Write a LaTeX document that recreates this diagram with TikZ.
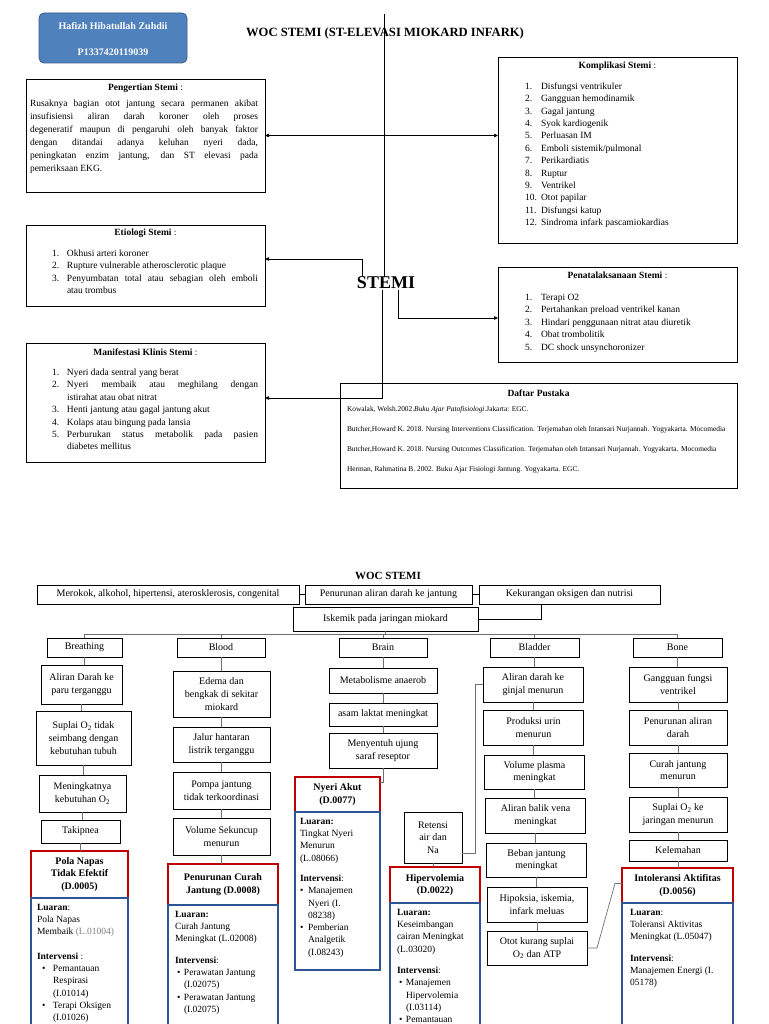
\documentclass[tikz,border=0pt]{standalone}
\usepackage{fontspec}
\setmainfont{Liberation Serif}
\usetikzlibrary{arrows.meta}
\definecolor{namefill}{HTML}{4F81BD}
\definecolor{nameedge}{HTML}{385D8A}
\definecolor{dxred}{HTML}{C00000}
\definecolor{dxblue}{HTML}{2F5496}
\definecolor{lkgray}{HTML}{6F6F6F}
\newlength\lind
\newcommand\myfs[2]{\fontsize{#1}{#2}\selectfont}
\newcommand\li[2]{\par\noindent\hangindent=\lind\hangafter=1\makebox[\lind][l]{#1}#2}
\newcommand\bul[3]{\hspace*{#1}\makebox[#2][l]{\textbullet}#3}
\begin{document}
\begin{tikzpicture}[x=1pt,y=-1pt,
  every node/.style={inner sep=0pt, outer sep=0pt},
  panel/.style={draw, line width=0.8pt},
  ttl/.style={font=\myfs{9.5}{12}},
  lst/.style={anchor=north west, align=justify, font=\myfs{9.5}{12.4}},
  tip/.style={-{Triangle[length=4pt,width=3.5pt]}},
  tips/.style={{Triangle[length=4pt,width=3.5pt]}-{Triangle[length=4pt,width=3.5pt]}},
  ln/.style={line width=0.6pt},
  bx/.style={draw, line width=0.7pt, align=center, font=\myfs{10}{12.6}},
  rbx/.style={draw=dxred, line width=1.4pt, align=center, font=\bfseries\myfs{10}{12.6}},
  bbx/.style={draw=dxblue, line width=1.4pt},
  btx/.style={anchor=north west, align=left, font=\myfs{9.5}{12.3}},
  lk/.style={line width=0.7pt, draw=lkgray},
]
\useasboundingbox (0,0) rectangle (768,1024);
\fill[white] (0,0) rectangle (768,1024);

% ---------- header ----------
\node[draw=nameedge, fill=namefill, rounded corners=5pt, line width=0.8pt, minimum width=148pt, minimum height=50pt] (namebox) at (113,38) {};
\node[font=\bfseries\myfs{10}{12}, text=white] (nm1) at (113,26) {Hafizh Hibatullah Zuhdii};
\node[font=\bfseries\myfs{10}{12}, text=white] (nm2) at (113,52) {P1337420119039};
\node[font=\bfseries\myfs{12.6}{14}] (title) at (385,33) {WOC STEMI (ST-ELEVASI MIOKARD INFARK)};
\node[font=\bfseries\myfs{18}{20}] (stemi) at (386,283) {STEMI};

% ---------- Pengertian ----------
\node[panel, minimum width=239pt, minimum height=113pt] (peng) at (145.5,135.5) {};
\node[ttl] (pengT) at (145.5,88) {\textbf{Pengertian Stemi} :};
\node[lst, text width=228pt, font=\myfs{9.5}{13}] (pengP) at (30,99.5) {Rusaknya bagian otot jantung secara permanen akibat\linebreak insufisiensi aliran darah koroner oleh proses\linebreak degeneratif maupun di pengaruhi oleh banyak faktor\linebreak dengan ditandai adanya keluhan nyeri dada,\linebreak peningkatan enzim jantung, dan ST elevasi pada\linebreak pemeriksaan EKG.};

% ---------- Komplikasi ----------
\node[panel, minimum width=239pt, minimum height=186pt] (komp) at (617.5,150) {};
\node[ttl] (kompT) at (617.5,66) {\textbf{Komplikasi Stemi} :};
\node[lst, text width=205pt] (kompL) at (525,77) {\setlength\lind{16pt}%
\li{1.}{Disfungsi ventrikuler}\li{2.}{Gangguan hemodinamik}\li{3.}{Gagal jantung}\li{4.}{Syok kardiogenik}\li{5.}{Perluasan IM}\li{6.}{Emboli sistemik/pulmonal}\li{7.}{Perikardiatis}\li{8.}{Ruptur}\li{9.}{Ventrikel}\li{10.}{Otot papilar}\li{11.}{Disfungsi katup}\li{12.}{Sindroma infark pascamiokardias}\par};

% ---------- Etiologi ----------
\node[panel, minimum width=239pt, minimum height=81pt] (etio) at (145.5,265.5) {};
\node[ttl] (etioT) at (145.5,233) {\textbf{Etiologi Stemi} :};
\node[lst, text width=206pt] (etioL) at (52,244) {\setlength\lind{15pt}%
\li{1.}{Okhusi arteri koroner}\li{2.}{Rupture vulnerable atherosclerotic plaque}\li{3.}{Penyumbatan total atau sebagian oleh emboli\linebreak atau trombus}\par};

% ---------- Penatalaksanaan ----------
\node[panel, minimum width=239pt, minimum height=95pt] (pena) at (617.5,314.5) {};
\node[ttl] (penaT) at (617.5,275) {\textbf{Penatalaksanaan Stemi} :};
\node[lst, text width=205pt] (penaL) at (525,288) {\setlength\lind{16pt}%
\li{1.}{Terapi O2}\li{2.}{Pertahankan preload ventrikel kanan}\li{3.}{Hindari penggunaan nitrat atau diuretik}\li{4.}{Obat trombolitik}\li{5.}{DC shock unsynchoronizer}\par};

% ---------- Manifestasi ----------
\node[panel, minimum width=239pt, minimum height=119pt] (mani) at (145.5,402.5) {};
\node[ttl] (maniT) at (145.5,352) {\textbf{Manifestasi Klinis Stemi} :};
\node[lst, text width=206pt] (maniL) at (52,363) {\setlength\lind{15pt}%
\li{1.}{Nyeri dada sentral yang berat}\li{2.}{Nyeri membaik atau meghilang dengan\linebreak istirahat atau obat nitrat}\li{3.}{Henti jantung atau gagal jantung akut}\li{4.}{Kolaps atau bingung pada lansia}\li{5.}{Perburukan status metabolik pada pasien\linebreak diabetes mellitus}\par};

% ---------- Daftar Pustaka ----------
\node[panel, minimum width=397pt, minimum height=105pt] (dp) at (538.5,435.5) {};
\node[font=\bfseries\myfs{9.5}{12}] (dpT) at (538.5,393) {Daftar Pustaka};
\node[anchor=west, font=\myfs{7.4}{9}] (dp1) at (347,410) {Kowalak, Welsh.2002.\textit{Buku Ajar Patofisiologi}.Jakarta: EGC.};
\node[anchor=west, font=\myfs{7.4}{9}] (dp2) at (347,430) {Butcher,Howard K. 2018. Nursing Interventions Classification. Terjemahan oleh Intansari Nurjannah. Yogyakarta. Mocomedia};
\node[anchor=west, font=\myfs{7.4}{9}] (dp3) at (347,450) {Butcher,Howard K. 2018. Nursing Outcomes Classification. Terjemahan oleh Intansari Nurjannah. Yogyakarta. Mocomedia};
\node[anchor=west, font=\myfs{7.4}{9}] (dp4) at (347,470) {Herman, Rahmatina B. 2002. Buku Ajar Fisiologi Jantung. Yogyakarta. EGC.};

% ---------- top connectors ----------
\coordinate (up1) at (384,14);
\draw[ln] (up1) -- (stemi.north -| up1);
\draw[tips, ln] (peng.east) -- (peng.east -| komp.west);
\coordinate (e1) at (362,276);
\draw[tip, ln] (e1) |- ([yshift=6.5pt]etio.east);
\coordinate (m1) at (382,290);
\draw[tip, ln] (m1) |- ([yshift=4.5pt]mani.east);
\coordinate (p1) at (398,290);
\draw[tip, ln] (p1) |- ([yshift=-3.5pt]pena.west);

% ================= WOC STEMI (bottom) =================
\node[font=\bfseries\myfs{11}{13}] (woc2) at (388,576) {WOC STEMI};
\node[bx, minimum width=262pt, minimum height=19pt] (rok) at (168,594.5) {Merokok, alkohol, hipertensi, aterosklerosis, congenital};
\node[bx, minimum width=167pt, minimum height=19pt] (pen) at (388.5,594.5) {Penurunan aliran darah ke jantung};
\node[bx, minimum width=181pt, minimum height=19pt] (kek) at (569.5,594.5) {Kekurangan oksigen dan nutrisi};
\node[bx, minimum width=185pt, minimum height=24pt] (isk) at (385.5,619) {Iskemik pada jaringan miokard};
\draw[ln] (rok) -- (pen);
\draw[ln] (pen) -- (kek);
\draw[ln] ([xshift=-28.5pt]kek.south) |- (isk.east);

% row of B's
\node[bx, minimum width=75pt, minimum height=19pt] (brea) at (84.5,647.5) {Breathing};
\node[bx, minimum width=88pt, minimum height=19pt] (bloo) at (221,647.5) {Blood};
\node[bx, minimum width=88pt, minimum height=19pt] (brai) at (383,647.5) {Brain};
\node[bx, minimum width=89pt, minimum height=19pt] (blad) at (534.5,647.5) {Bladder};
\node[bx, minimum width=89pt, minimum height=19pt] (bone) at (677.5,647.5) {Bone};
\coordinate (busL) at (84.5,634);
\coordinate (busR) at (677.5,634);
\draw[lk] (busL) -- (busR);
\draw[lk] (isk.south) -- (isk.south |- busL);
\foreach \n in {brea,bloo,brai,blad,bone} \draw[lk] (\n.north |- busL) -- (\n.north);

% Breathing column
\node[bx, minimum width=81pt, minimum height=39pt] (b1) at (81.5,684.5) {Aliran Darah ke\\paru terganggu};
\node[bx, minimum width=95pt, minimum height=54pt] (b2) at (83.5,738) {Suplai O\textsubscript{2} tidak\\seimbang dengan\\kebutuhan tubuh};
\node[bx, minimum width=87pt, minimum height=37pt] (b3) at (82.5,793.5) {Meningkatnya\\kebutuhan O\textsubscript{2}};
\node[bx, minimum width=79pt, minimum height=23pt] (b4) at (80.5,831.5) {Takipnea};
\node[rbx, minimum width=97pt, minimum height=47pt] (b5) at (79.5,874.5) {Pola Napas\\Tidak Efektif\\(D.0005)};
\node[bbx, minimum width=97pt, minimum height=132pt] (b6) at (79.5,964) {};
\node[btx] (b6t) at (37,904) {\textbf{Luaran}:\\Pola Napas\\Membaik {\color{gray}(L.01004)}\\[12pt]\textbf{Intervensi} :\\\bul{5pt}{11pt}{Pemantauan}\\\hspace*{16pt}Respirasi\\\hspace*{16pt}(I.01014)\\\bul{5pt}{11pt}{Terapi Oksigen}\\\hspace*{16pt}(I.01026)};

% Blood column
\node[bx, minimum width=97pt, minimum height=46pt] (d1) at (221.5,694) {Edema dan\\bengkak di sekitar\\miokard};
\node[bx, minimum width=97pt, minimum height=35pt] (d2) at (221.5,744.5) {Jalur hantaran\\listrik terganggu};
\node[bx, minimum width=97pt, minimum height=37pt] (d3) at (221.5,790.5) {Pompa jantung\\tidak terkoordinasi};
\node[bx, minimum width=97pt, minimum height=37pt] (d4) at (221.5,836.5) {Volume Sekuncup\\menurun};
\node[rbx, minimum width=110pt, minimum height=41pt] (d5) at (223,884.5) {Penurunan Curah\\Jantung (D.0008)};
\node[bbx, minimum width=110pt, minimum height=125pt] (d6) at (223,967.5) {};
\node[btx] (d6t) at (175,911) {\textbf{Luaran:}\\Curah Jantung\\Meningkat (L.02008)\\[9pt]\textbf{Intervensi}:\\\bul{2pt}{7pt}{Perawatan Jantung}\\\hspace*{9pt}(I.02075)\\\bul{2pt}{7pt}{Perawatan Jantung}\\\hspace*{9pt}(I.02075)};

% Brain column
\node[bx, minimum width=108pt, minimum height=25pt] (n1) at (383,680.5) {Metabolisme anaerob};
\node[bx, minimum width=108pt, minimum height=23pt] (n2) at (383,714.5) {asam laktat meningkat};
\node[bx, minimum width=108pt, minimum height=35pt] (n3) at (383,750.5) {Menyentuh ujung\\saraf reseptor};
\node[rbx, minimum width=85pt, minimum height=35pt] (n4) at (337.5,794.5) {Nyeri Akut\\(D.0077)};
\node[bbx, minimum width=85pt, minimum height=158pt] (n5) at (337.5,891) {};
\node[btx] (n5t) at (300,818) {\textbf{Luaran:}\\Tingkat Nyeri\\Menurun\\(L.08066)\\[8pt]\textbf{Intervensi}:\\\bul{0pt}{8pt}{Manajemen}\\\hspace*{8pt}Nyeri (I.\\\hspace*{8pt}08238)\\\bul{0pt}{8pt}{Pemberian}\\\hspace*{8pt}Analgetik\\\hspace*{8pt}(I.08243)};

% Bladder column
\node[bx, minimum width=100pt, minimum height=35pt] (c1) at (533,684.5) {Aliran darah ke\\ginjal menurun};
\node[bx, minimum width=100pt, minimum height=35pt] (c2) at (533.5,727.5) {Produksi urin\\menurun};
\node[bx, minimum width=100pt, minimum height=34pt] (c3) at (534.5,772) {Volume plasma\\meningkat};
\node[bx, minimum width=100pt, minimum height=35pt] (c4) at (535.5,815.5) {Aliran balik vena\\meningkat};
\node[bx, minimum width=100pt, minimum height=34pt] (c5) at (536.5,860) {Beban jantung\\meningkat};
\node[bx, minimum width=100pt, minimum height=35pt] (c6) at (537,904.5) {Hipoksia, iskemia,\\infark meluas};
\node[bx, minimum width=100pt, minimum height=34pt] (c7) at (537,948) {Otot kurang suplai\\O\textsubscript{2} dan ATP};
\node[bx, minimum width=58pt, minimum height=51pt] (ret) at (433,837.5) {Retensi\\air dan\\Na};
\node[rbx, minimum width=90pt, minimum height=36pt] (h1) at (435,885) {Hipervolemia\\(D.0022)};
\node[bbx, minimum width=90pt, minimum height=127pt] (h2) at (435,966.5) {};
\node[btx] (h2t) at (397,909) {\textbf{Luaran:}\\Keseimbangan\\cairan Meningkat\\(L.03020)\\[9pt]\textbf{Intervensi}:\\\bul{2pt}{7pt}{Manajemen}\\\hspace*{9pt}Hipervolemia\\\hspace*{9pt}(I.03114)\\\bul{2pt}{7pt}{Pemantauan}};

% Bone column
\node[bx, minimum width=98pt, minimum height=35pt] (o1) at (678,684.5) {Gangguan fungsi\\ventrikel};
\node[bx, minimum width=98pt, minimum height=35pt] (o2) at (678,727.5) {Penurunan aliran\\darah};
\node[bx, minimum width=98pt, minimum height=34pt] (o3) at (678,770) {Curah jantung\\menurun};
\node[bx, minimum width=98pt, minimum height=35pt] (o4) at (678,814.5) {Suplai O\textsubscript{2} ke\\jaringan menurun};
\node[bx, minimum width=98pt, minimum height=21pt] (o5) at (678,850.5) {Kelemahan};
\node[rbx, minimum width=111pt, minimum height=35pt] (o6) at (677.5,885.5) {Intoleransi Aktifitas\\(D.0056)};
\node[bbx, minimum width=111pt, minimum height=127pt] (o7) at (677.5,966.5) {};
\node[btx] (o7t) at (630,909) {\textbf{Luaran}:\\Toleransi Aktivitas\\Meningkat (L.05047)\\[9pt]\textbf{Intervensi}:\\Manajemen Energi (I.\\05178)};

% column links
\foreach \a/\b in {brea/b1,b1/b2,b2/b3,b3/b4,b4/b5,bloo/d1,d1/d2,d2/d3,d3/d4,d4/d5,brai/n1,n1/n2,n2/n3,blad/c1,c1/c2,c2/c3,c3/c4,c4/c5,c5/c6,c6/c7,ret/h1,bone/o1,o1/o2,o2/o3,o3/o4,o4/o5,o5/o6}
  \draw[lk] (\a.south) -- (\a.south |- \b.north);
\draw[lk] (n3.south) |- ([yshift=12.5pt]n4.east);
\draw[lk] (c1.west) -- ++(-8,0) |- ([yshift=-15.5pt]ret.east);
\draw[lk] (c7.east) -- ++(10,0) -- ([xshift=-7pt,yshift=2pt]o6.west) -- ([yshift=2pt]o6.west);
\end{tikzpicture}
\end{document}
